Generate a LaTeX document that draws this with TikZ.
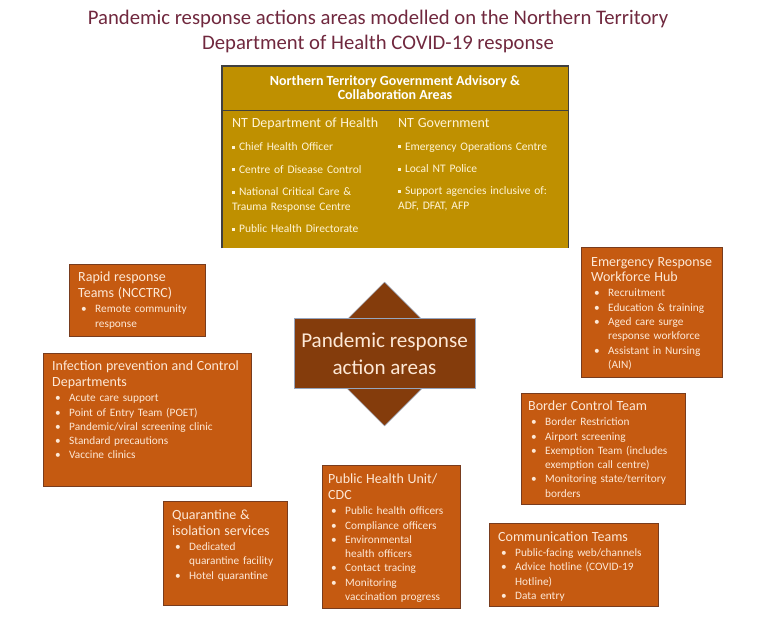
\documentclass[tikz,border=0pt]{standalone}
\usepackage{fontspec}
\setmainfont{Carlito}
\usetikzlibrary{shapes.geometric}

\definecolor{titlered}{RGB}{112,40,62}
\definecolor{boxorange}{RGB}{197,90,17}
\definecolor{boxedge}{RGB}{120,60,30}
\definecolor{ntgold}{RGB}{191,144,0}
\definecolor{hubbrown}{RGB}{132,60,12}
\definecolor{cream}{RGB}{253,232,214}
\definecolor{palecream}{RGB}{255,244,214}
\definecolor{paleline}{RGB}{150,165,190}

\newcommand{\bitem}{\par\parindent=0pt\leftskip=17pt\leavevmode\llap{\textbullet\hspace{8.5pt}}}
\newcommand{\sqb}{\rule[0.35ex]{0.55ex}{0.55ex}\ }
\newcommand{\boxhead}[1]{\parindent=0pt{\fontsize{14}{15.5}\selectfont #1\par}\vspace{1pt}}
\newcommand{\colhead}[1]{\parindent=0pt{\fontsize{14}{16}\selectfont #1\par}\vspace{8pt}}

\begin{document}
\begin{tikzpicture}[x=1pt,y=-1pt,
    areabox/.style={draw=boxedge, line width=0.7pt, fill=boxorange, anchor=north west, inner sep=0pt},
    areatext/.style={anchor=north west, inner sep=0pt, text width=200pt, text=cream, align=left,
      font=\fontsize{11.3}{14.3}\selectfont},
    coltext/.style={anchor=north west, inner sep=0pt, text width=165pt, align=left,
      text=palecream, font=\fontsize{11.5}{15}\selectfont}]
\useasboundingbox (0,0) rectangle (768,631);

% Titel:
\node[text=titlered, align=center, font=\fontsize{20.7}{25}\selectfont] (title) at (378,31)
  {Pandemic response actions areas modelled on the Northern Territory\\Department of Health COVID-19 response};

% oberer Kasten:
\node[fill=ntgold, anchor=north west, minimum width=346pt, minimum height=182pt, inner sep=0pt] (ntgov) at (222,66) {};
\node[text=white, align=center, font=\bfseries\fontsize{14}{14}\selectfont, minimum height=44pt] (nthead) at (395,88)
  {Northern Territory Government Advisory \&\\Collaboration Areas};
\draw[line width=1.2pt, black!75] (ntgov.south west) -- (ntgov.north west) -- (ntgov.north east) -- (ntgov.south east); % Rand
\draw[line width=1.2pt, black!75] (ntgov.west |- nthead.south) -- (ntgov.east |- nthead.south); % Trennlinie
\node[coltext] (doh) at (232,118) {\colhead{NT Department of Health}
  \sqb Chief Health Officer\par\vspace{7.3pt}
  \sqb Centre of Disease Control\par\vspace{7.3pt}
  \sqb National Critical Care \&\par Trauma Response Centre\par\vspace{7.3pt}
  \sqb Public Health Directorate\par};
\node[coltext] (ntg) at (398,118) {\colhead{NT Government}
  \sqb Emergency Operations Centre\par\vspace{7.3pt}
  \sqb Local NT Police\par\vspace{7.3pt}
  \sqb Support agencies inclusive of:\par ADF, DFAT, AFP\par};

% Mitte:
\node[diamond, aspect=1, fill=hubbrown, draw=paleline, line width=0.5pt, minimum width=144pt, minimum height=144pt, inner sep=0pt] (hubdia) at (384.5,354) {};
\node[fill=hubbrown, draw=paleline, line width=0.5pt, minimum width=181pt, minimum height=70pt, text=cream,
  align=center, font=\fontsize{21.1}{27}\selectfont] (hub) at (384.5,353.5) {Pandemic response\\action areas};

% Kaesten:
\node[areabox, minimum width=136pt, minimum height=72pt] (rrt) at (69,264) {};
\node[areatext] (rrt-t) at ([shift={(9,8)}]rrt.north west)
  {\boxhead{Rapid response\par Teams (NCCTRC)}\bitem Remote community\par response\par};

\node[areabox, minimum width=141pt, minimum height=130pt] (erw) at (581,247) {};
\node[areatext] (erw-t) at ([shift={(10,10)}]erw.north west)
  {\boxhead{Emergency Response\par Workforce Hub}\bitem Recruitment\bitem Education \& training
   \bitem Aged care surge\par response workforce\bitem Assistant in Nursing\par (AIN)\par};

\node[areabox, minimum width=208pt, minimum height=133pt] (ipc) at (43,353) {};
\node[areatext] (ipc-t) at ([shift={(9,8)}]ipc.north west)
  {\boxhead{Infection prevention and Control\par Departments}\bitem Acute care support
   \bitem Point of Entry Team (POET)\bitem Pandemic/viral screening clinic
   \bitem Standard precautions\bitem Vaccine clinics\par};

\node[areabox, minimum width=164pt, minimum height=111pt] (bct) at (521,393) {};
\node[areatext] (bct-t) at ([shift={(7,7.5)}]bct.north west)
  {\boxhead{Border Control Team}\bitem Border Restriction\bitem Airport screening
   \bitem Exemption Team (includes\par exemption call centre)\bitem Monitoring state/territory\par borders\par};

\node[areabox, minimum width=124pt, minimum height=104pt] (qis) at (163,501) {};
\node[areatext] (qis-t) at ([shift={(9,9)}]qis.north west)
  {\boxhead{Quarantine \&\par isolation services}\bitem Dedicated\par quarantine facility\bitem Hotel quarantine\par};

\node[areabox, minimum width=138pt, minimum height=143pt] (phu) at (322,465) {};
\node[areatext] (phu-t) at ([shift={(6,9)}]phu.north west)
  {\boxhead{Public Health Unit/\par CDC}\bitem Public health officers\bitem Compliance officers
   \bitem Environmental\par health officers\bitem Contact tracing\bitem Monitoring\par vaccination progress\par};

\node[areabox, minimum width=169pt, minimum height=83pt] (com) at (489,523) {};
\node[areatext] (com-t) at ([shift={(9,8.5)}]com.north west)
  {\boxhead{Communication Teams}\bitem Public-facing web/channels
   \bitem Advice hotline (COVID-19\par Hotline)\bitem Data entry\par};
\end{tikzpicture}
\end{document}
